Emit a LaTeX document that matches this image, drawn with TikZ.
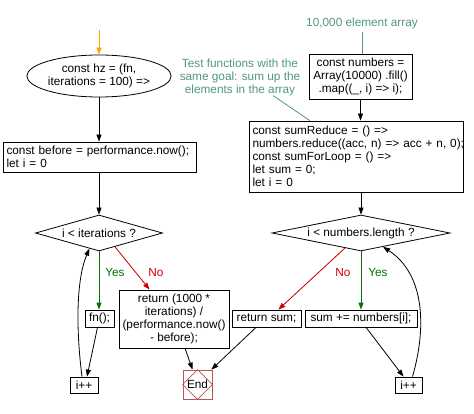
\documentclass[tikz,border=0pt]{standalone}
\usepackage{fontspec}
\setmainfont{Liberation Sans}
\usetikzlibrary{shapes.geometric,arrows.meta,calc}
\definecolor{notec}{RGB}{80,150,128}
\definecolor{yesc}{RGB}{0,115,0}
\definecolor{noc}{RGB}{205,0,0}
\definecolor{endc}{RGB}{190,80,90}
\definecolor{startc}{RGB}{255,165,0}
\begin{document}
\begin{tikzpicture}[x=1pt,y=-1pt,
  font=\fontsize{11.8}{13}\selectfont,
  box/.style={draw, line width=0.8pt, inner sep=0pt, align=center},
  lbox/.style={draw, line width=0.8pt, inner ysep=0pt, inner xsep=3.5pt, align=left},
  dia/.style={draw, diamond, line width=0.8pt, inner sep=0pt},
  ar/.style={-{Triangle[length=7pt,width=5pt]}, line width=0.8pt},
  note/.style={text=notec, align=center, inner sep=0pt},
  noteline/.style={draw=notec, line width=0.8pt},
  yes/.style={ar, draw=yesc, fill=yesc},
  no/.style={ar, draw=noc, fill=noc},
  yeslab/.style={text=yesc, inner sep=0pt},
  nolab/.style={text=noc, inner sep=0pt}]
\useasboundingbox (0,0) rectangle (474,414);

% left column
\coordinate (s0) at (99,30);
\node[draw, ellipse, line width=0.8pt, inner sep=0pt, minimum width=125pt, minimum height=42pt, align=center] (start) at (99,76) {const hz = (fn,\\iterations = 100) =>};
\node[lbox, text width=186pt, minimum height=30pt] (before) at (99.5,157) {\mbox{const before = performance.now();}\\let i = 0};
\node[dia, minimum width=127pt, minimum height=36pt] (d1) at (99,233) {};
\node[inner sep=0pt] (d1t) at (d1) {i < iterations ?};
\node[box, minimum width=29pt, minimum height=17pt] (fn) at (99.5,318.5) {fn();};
\node[box, minimum width=28pt, minimum height=16pt] (i1) at (84,385) {i++};
\node[box, minimum width=110pt, minimum height=58pt] (ret1) at (174,319) {return (1000 *\\iterations) /\\(performance.now()\\- before);};
\node[draw=endc, line width=0.8pt, minimum width=29pt, minimum height=29pt, inner sep=0pt] (end) at (197.5,384.5) {End};
\draw[endc, line width=0.8pt] (end.north) -- (end.east) -- (end.south) -- (end.west) -- cycle;

% right column
\node[note] (note1) at (362,23) {10,000 element array};
\node[box, minimum width=103pt, minimum height=45pt] (nums) at (360.5,76.5) {const numbers =\\Array(10000) .fill()\\.map((\_, i) => i);};
\node[note] (note2) at (240,77) {Test functions with the\\same goal: sum up the\\elements in the array};
\node[lbox, text width=207pt, minimum height=71pt] (sr) at (356,156.5) {const sumReduce = () =>\\\mbox{numbers.reduce((acc, n) => acc + n, 0);}\\const sumForLoop = () =>\\let sum = 0;\\let i = 0};
\node[dia, minimum width=178pt, minimum height=36pt] (d2) at (361,233) {};
\node[inner sep=0pt] (d2t) at (d2) {i < numbers.length ?};
\node[box, minimum width=69pt, minimum height=17pt] (rs) at (266.5,318.5) {return sum;};
\node[box, minimum width=112pt, minimum height=17pt] (sp) at (361,318.5) {sum += numbers[i];};
\node[box, minimum width=27pt, minimum height=16pt] (i2) at (408.5,385) {i++};

% connectors left
\draw[ar, draw=startc, fill=startc] (s0) -- (start.north);
\draw[ar] (start.south) -- (before.north -| start.south);
\draw[ar] (before.south -| d1.north) -- (d1.north);
\draw[yes] (d1.south) -- (fn.north -| d1.south);
\draw[no] ($(d1.south)!0.25!(d1.east)$) -- ($(ret1.north west)!0.28!(ret1.north east)$);
\node[yeslab] (yl1) at (115,272) {Yes};
\node[nolab] (nl1) at (156,272) {No};
\draw[ar] ([xshift=-2pt]fn.south) -- ([xshift=3pt]i1.north);
\draw[ar] ([xshift=-2pt]i1.north) .. controls (76,330) and (76,280) .. ($(d1.south)!0.15!(d1.west)$);
\draw[ar] ($(ret1.south west)!0.6!(ret1.south east)$) -- ([xshift=-5pt]end.north);
\draw[ar] ($(rs.south west)!0.35!(rs.south east)$) -- ([xshift=-1pt]end.north east);

% connectors right
\draw[noteline] (note1.south) ++(0,3) -- (note1.south |- nums.north);
\draw[noteline] ($(note2.south)!0.55!(note2.south east)$) -- ($(sr.north west)!0.285!(sr.north east)$);
\draw[ar] (nums.south) -- (nums.south |- sr.north);
\draw[ar] (d2.north |- sr.south) -- (d2.north);
\draw[no] ($(d2.south)!0.18!(d2.west)$) -- ($(rs.north west)!0.67!(rs.north east)$);
\draw[yes] (d2.south) -- (sp.north -| d2.south);
\node[nolab] (nl2) at (343,272) {No};
\node[yeslab] (yl2) at (378,272) {Yes};
\draw[ar] ($(sp.south west)!0.545!(sp.south east)$) -- ([xshift=-5pt]i2.north);
\draw[ar] ([xshift=4pt]i2.north) .. controls (426,330) and (426,275) .. ($(d2.south)!0.247!(d2.east)$);
\end{tikzpicture}
\end{document}
